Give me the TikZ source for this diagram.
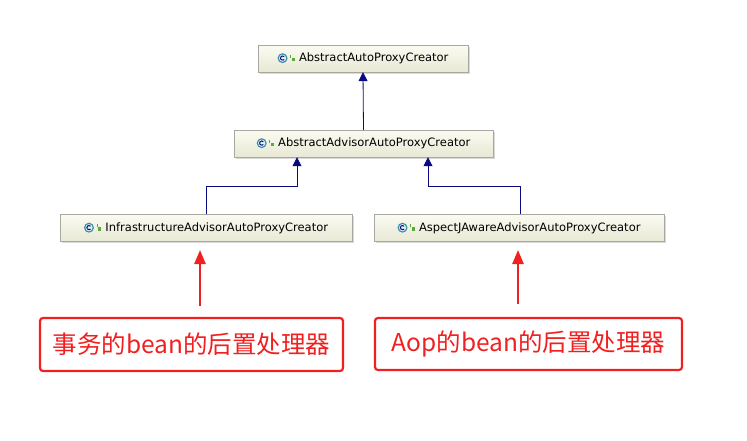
\documentclass[tikz,border=0pt]{standalone}
\usepackage{fontspec}
\setmainfont{DejaVu Sans}
\newfontfamily\cjk{Noto Sans CJK SC}
\usetikzlibrary{arrows.meta,shadows}
\definecolor{boxfill}{HTML}{F4F4DE}
\definecolor{boxline}{HTML}{A8A8A0}
\definecolor{navy}{HTML}{0A0A80}
\definecolor{redc}{HTML}{F02020}
\definecolor{icoc}{HTML}{3A8FA8}
\definecolor{lockc}{HTML}{5AAA3A}
\tikzset{
 cls/.style={draw=boxline, top color=white!60!boxfill, bottom color=boxfill!90!gray, minimum height=27pt, inner sep=0pt, font=\fontsize{11.5}{13}\selectfont, drop shadow={shadow xshift=1.5pt,shadow yshift=-1.5pt,opacity=0.3}},
 inh/.style={draw=navy, line width=0.8pt, -{Triangle[length=9pt,width=9pt]}},
 note/.style={draw=redc, line width=2.2pt, rounded corners=3pt, text=redc, font=\cjk\fontsize{24.5}{28}\selectfont, inner sep=0pt},
 redarr/.style={draw=redc, line width=2.5pt, -{Triangle[length=14pt,width=11pt]}},
}
\newcommand{\ico}{\tikz[baseline=-3.5pt,x=1pt,y=1pt]{\fill[icoc] (0,0) circle (5pt);\fill[white!85!icoc] (0,0) circle (3.6pt);\draw[navy,line width=1pt] (1.6,1.4) arc (40:320:2.1);\fill[lockc] (9,-3) rectangle (12.5,0.5);\draw[lockc,line width=0.6pt] (8,0.5)--(8,3.5);}\hspace{4pt}}
\begin{document}
\begin{tikzpicture}[x=1pt,y=-1pt]
\useasboundingbox (0,0) rectangle (747,440);
\node[cls, minimum width=210pt] (top) at (363,58.5) {\ico AbstractAutoProxyCreator};
\node[cls, minimum width=259pt] (mid) at (363.5,143.5) {\ico AbstractAdvisorAutoProxyCreator};
\node[cls, minimum width=292pt] (left) at (206,228) {\ico InfrastructureAdvisorAutoProxyCreator};
\node[cls, minimum width=290pt] (right) at (519,228) {\ico AspectJAwareAdvisorAutoProxyCreator};
\draw[inh] (mid.north) -- (top.south);
\coordinate (lk) at (206,186); \coordinate (lk2) at (297,186);
\coordinate (rk) at (520,186); \coordinate (rk2) at (428,186);
\draw[inh] (left.north) -- (lk) -- (lk2) -- (lk2 |- mid.south);
\draw[inh] (right.north -| rk) -- (rk) -- (rk2) -- (rk2 |- mid.south);
\node[note, minimum width=303pt, minimum height=53pt] (n1) at (191.5,344.5) {事务的bean的后置处理器};
\node[note, minimum width=307pt, minimum height=52pt] (n2) at (528.5,344) {Aop的bean的后置处理器};
\coordinate (a1) at (200,250); \coordinate (a2) at (518,250);
\draw[redarr] (200,306) -- (a1);
\draw[redarr] (518,304) -- (a2);
\end{tikzpicture}
\end{document}
